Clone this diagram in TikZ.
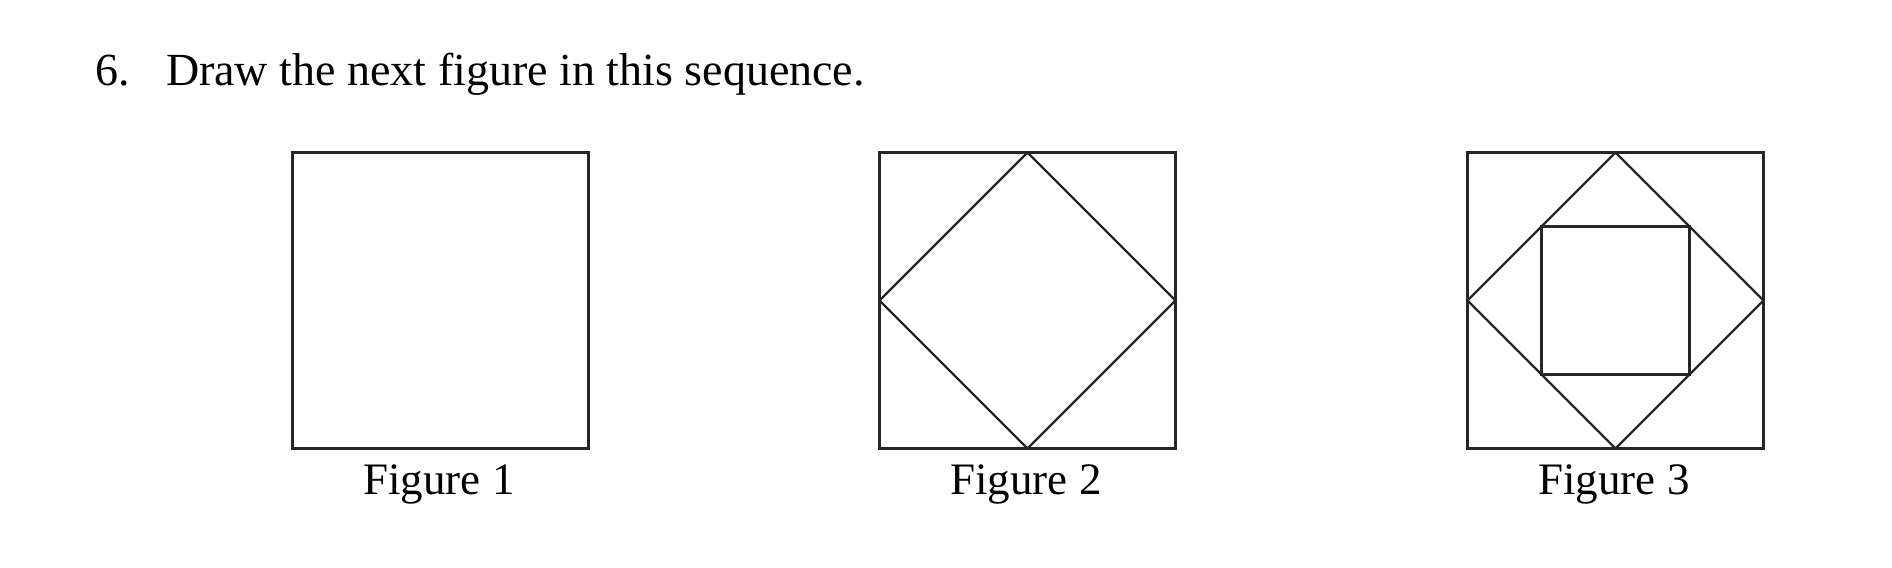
\documentclass[tikz,border=0pt]{standalone}
\usepackage{fontspec}
\setmainfont{Liberation Serif}
\begin{document}
\begin{tikzpicture}[x=0.5pt,y=-0.5pt,
  fig/.style={draw=black!85, line width=1.3pt, minimum size=148pt, inner sep=0pt, outer sep=0pt},
  inner/.style={draw=black!85, line width=1.3pt, minimum size=74pt, inner sep=0pt, outer sep=0pt},
  ln/.style={draw=black!85, line width=1.2pt, line join=miter},
  txt/.style={font=\fontsize{22.5}{27}\selectfont, inner sep=0pt, outer sep=0pt},
  ttl/.style={font=\fontsize{23}{28}\selectfont, inner sep=0pt, outer sep=0pt}]
\useasboundingbox (0,0) rectangle (1892,568);
% title
\node[ttl, anchor=base west] (num) at (95,85) {6.};
\node[ttl, anchor=base west] (q) at (166,85) {Draw the next figure in this sequence.};
% figure 1
\node[fig] (f1) at (440.5,300.5) {};
\node[txt, anchor=base] (c1) at (439,494) {Figure 1};
% figure 2
\node[fig] (f2) at (1027.5,300.5) {};
\draw[ln] (f2.north) -- (f2.east) -- (f2.south) -- (f2.west) -- cycle;
\node[txt, anchor=base] (c2) at (1026,494) {Figure 2};
% figure 3
\node[fig] (f3) at (1615.5,300.5) {};
\draw[ln] (f3.north) -- (f3.east) -- (f3.south) -- (f3.west) -- cycle;
\node[inner] (f3i) at (f3.center) {};
\node[txt, anchor=base] (c3) at (1614,494) {Figure 3};
\end{tikzpicture}
\end{document}
